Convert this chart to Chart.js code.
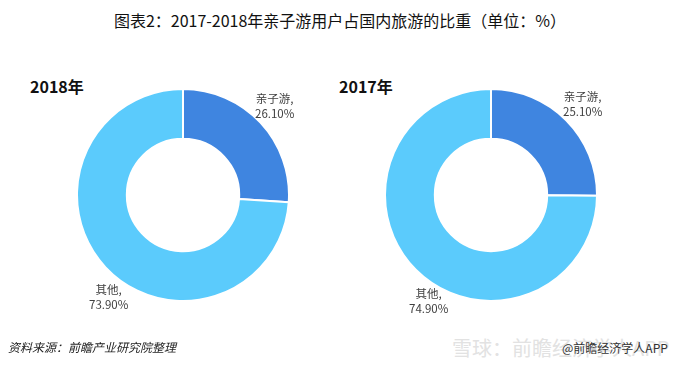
<!DOCTYPE html>
<html><head><meta charset="utf-8">
<script src="https://cdn.jsdelivr.net/npm/chart.js@4/dist/chart.umd.min.js"></script>
<style>
html,body{margin:0;padding:0;background:#fff;width:680px;height:366px;overflow:hidden;font-family:"Noto Sans CJK SC","Noto Sans",sans-serif;}
#wrap{position:relative;width:680px;height:366px;}
.abs{position:absolute;white-space:nowrap;}
#title{left:0;width:680px;top:8px;text-align:center;font-size:16px;color:#111;}
.yr{font-weight:bold;font-size:16px;color:#111;}
.lbl{font-size:11.5px;color:#404040;line-height:15px;text-align:center;}
.box{position:absolute;width:214px;height:214px;}
#src{left:8px;top:338px;font-size:12px;font-style:italic;color:#222;}
#wm{left:452px;top:333px;font-size:20px;color:#e2e2e2;}
#wm2{left:562px;top:339px;font-size:12px;color:#333;}
</style></head>
<body><div id="wrap">
<div id="title" class="abs"></div>
<div id="y0" class="abs yr" style="left:30px;top:74px"></div>
<div id="y1" class="abs yr" style="left:339px;top:74px"></div>
<div class="box" style="left:76px;top:88px"><canvas id="c0" width="214" height="214"></canvas></div>
<div class="box" style="left:384px;top:88px"><canvas id="c1" width="214" height="214"></canvas></div>
<div id="l00" class="abs lbl" style="left:255px;top:91px"></div>
<div id="l01" class="abs lbl" style="left:89px;top:282px"></div>
<div id="l10" class="abs lbl" style="left:563px;top:89px"></div>
<div id="l11" class="abs lbl" style="left:409px;top:286px"></div>
<div id="src" class="abs">资料来源：前瞻产业研究院整理</div>
<div id="wm" class="abs">雪球：前瞻经济学人APP</div>
<div id="wm2" class="abs">@前瞻经济学人APP</div>
</div>
<script>
const titleText = "图表2：2017-2018年亲子游用户占国内旅游的比重（单位：%）";
const years = ["2018年", "2017年"];
const categories = ["亲子游", "其他"];
const values2018 = [26.10, 73.90];
const values2017 = [25.10, 74.90];
const colors = ["#3F85E0", "#5BCBFC"];

document.getElementById('title').textContent = titleText;
document.getElementById('y0').textContent = years[0];
document.getElementById('y1').textContent = years[1];
const sets = [values2018, values2017];
sets.forEach((vals, i) => {
  vals.forEach((v, j) => {
    document.getElementById('l' + i + j).innerHTML = categories[j] + ',<br>' + v.toFixed(2) + '%';
  });
  new Chart(document.getElementById('c' + i), {
    type: 'doughnut',
    data: { labels: categories, datasets: [{ data: vals, backgroundColor: colors, borderColor: '#ffffff', borderWidth: 2 }] },
    options: {
      responsive: false, animation: false, cutout: '53%',
      layout: { padding: 0 },
      plugins: { legend: { display: false }, tooltip: { enabled: false } }
    }
  });
});
</script>
</body></html>
